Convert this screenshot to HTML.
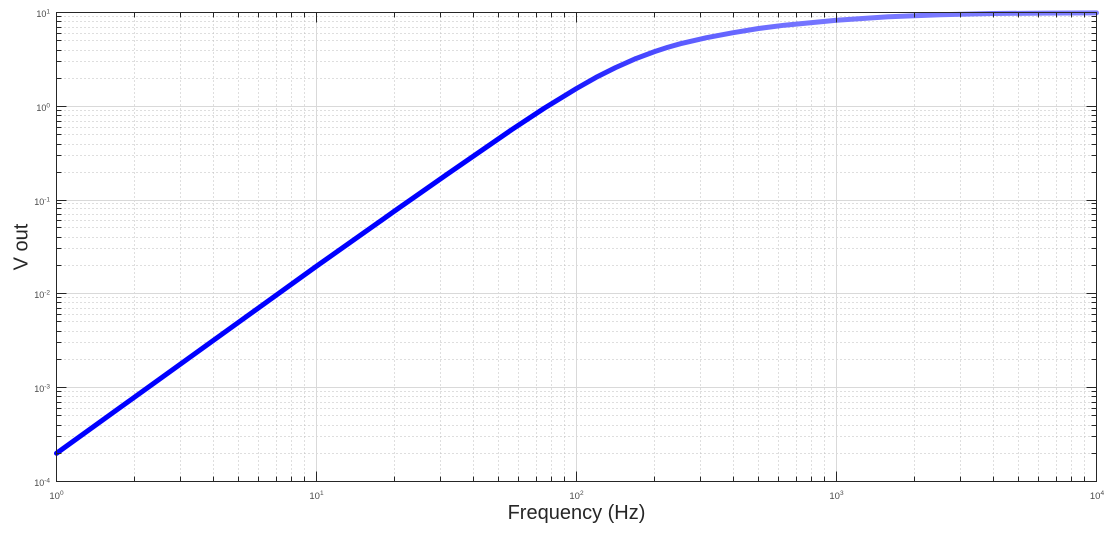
<!DOCTYPE html>
<html>
<head>
<meta charset="utf-8">
<style>
  html, body { margin: 0; padding: 0; background: #ffffff; }
  svg { display: block; }
  .mn { stroke: #bdbdbd; stroke-width: 1; stroke-dasharray: 1 3; fill: none; }
  .mj { stroke: #d9d9d9; stroke-width: 1; fill: none; }
  .tk { stroke: #262626; stroke-width: 1; fill: none; }
  .tl { font-family: "Liberation Sans", sans-serif; fill: #4a4a4a; }
  .al { font-family: "Liberation Sans", sans-serif; fill: #262626; font-size: 20px; }
</style>
</head>
<body>
<svg width="1105" height="535" viewBox="0 0 1105 535" xmlns="http://www.w3.org/2000/svg">
  <defs>
    <g id="vgrid">
      <line class="mn" x1="78" y1="12.5" x2="78" y2="481.5"/>
      <line class="mn" x1="124" y1="12.5" x2="124" y2="481.5"/>
      <line class="mn" x1="157" y1="12.5" x2="157" y2="481.5"/>
      <line class="mn" x1="182" y1="12.5" x2="182" y2="481.5"/>
      <line class="mn" x1="202" y1="12.5" x2="202" y2="481.5"/>
      <line class="mn" x1="220" y1="12.5" x2="220" y2="481.5"/>
      <line class="mn" x1="235" y1="12.5" x2="235" y2="481.5"/>
      <line class="mn" x1="248" y1="12.5" x2="248" y2="481.5"/>
    </g>
    <g id="vtick">
      <line class="tk" x1="78" y1="481.5" x2="78" y2="476.5"/>
      <line class="tk" x1="124" y1="481.5" x2="124" y2="476.5"/>
      <line class="tk" x1="157" y1="481.5" x2="157" y2="476.5"/>
      <line class="tk" x1="182" y1="481.5" x2="182" y2="476.5"/>
      <line class="tk" x1="202" y1="481.5" x2="202" y2="476.5"/>
      <line class="tk" x1="220" y1="481.5" x2="220" y2="476.5"/>
      <line class="tk" x1="235" y1="481.5" x2="235" y2="476.5"/>
      <line class="tk" x1="248" y1="481.5" x2="248" y2="476.5"/>
      <line class="tk" x1="78" y1="12.5" x2="78" y2="17.5"/>
      <line class="tk" x1="124" y1="12.5" x2="124" y2="17.5"/>
      <line class="tk" x1="157" y1="12.5" x2="157" y2="17.5"/>
      <line class="tk" x1="182" y1="12.5" x2="182" y2="17.5"/>
      <line class="tk" x1="202" y1="12.5" x2="202" y2="17.5"/>
      <line class="tk" x1="220" y1="12.5" x2="220" y2="17.5"/>
      <line class="tk" x1="235" y1="12.5" x2="235" y2="17.5"/>
      <line class="tk" x1="248" y1="12.5" x2="248" y2="17.5"/>
    </g>
    <g id="hgrid">
      <line class="mn" x1="56.5" y1="-28" x2="1096.5" y2="-28"/>
      <line class="mn" x1="56.5" y1="-45" x2="1096.5" y2="-45"/>
      <line class="mn" x1="56.5" y1="-56" x2="1096.5" y2="-56"/>
      <line class="mn" x1="56.5" y1="-66" x2="1096.5" y2="-66"/>
      <line class="mn" x1="56.5" y1="-73" x2="1096.5" y2="-73"/>
      <line class="mn" x1="56.5" y1="-79" x2="1096.5" y2="-79"/>
      <line class="mn" x1="56.5" y1="-85" x2="1096.5" y2="-85"/>
      <line class="mn" x1="56.5" y1="-90" x2="1096.5" y2="-90"/>
    </g>
    <g id="htick">
      <line class="tk" x1="56.5" y1="-28" x2="61.5" y2="-28"/>
      <line class="tk" x1="56.5" y1="-45" x2="61.5" y2="-45"/>
      <line class="tk" x1="56.5" y1="-56" x2="61.5" y2="-56"/>
      <line class="tk" x1="56.5" y1="-66" x2="61.5" y2="-66"/>
      <line class="tk" x1="56.5" y1="-73" x2="61.5" y2="-73"/>
      <line class="tk" x1="56.5" y1="-79" x2="61.5" y2="-79"/>
      <line class="tk" x1="56.5" y1="-85" x2="61.5" y2="-85"/>
      <line class="tk" x1="56.5" y1="-90" x2="61.5" y2="-90"/>
      <line class="tk" x1="1096.5" y1="-28" x2="1091.5" y2="-28"/>
      <line class="tk" x1="1096.5" y1="-45" x2="1091.5" y2="-45"/>
      <line class="tk" x1="1096.5" y1="-56" x2="1091.5" y2="-56"/>
      <line class="tk" x1="1096.5" y1="-66" x2="1091.5" y2="-66"/>
      <line class="tk" x1="1096.5" y1="-73" x2="1091.5" y2="-73"/>
      <line class="tk" x1="1096.5" y1="-79" x2="1091.5" y2="-79"/>
      <line class="tk" x1="1096.5" y1="-85" x2="1091.5" y2="-85"/>
      <line class="tk" x1="1096.5" y1="-90" x2="1091.5" y2="-90"/>
    </g>
    <linearGradient id="cg" gradientUnits="userSpaceOnUse" x1="56.5" y1="0" x2="1096.5" y2="0">
      <stop offset="0" stop-color="#0000ff"/>
      <stop offset="0.465" stop-color="#0000ff"/>
      <stop offset="0.523" stop-color="#2a2aff"/>
      <stop offset="0.60" stop-color="#5c5cff"/>
      <stop offset="0.715" stop-color="#7474ff"/>
      <stop offset="1" stop-color="#8080ff"/>
    </linearGradient>
  </defs>

  <rect x="0" y="0" width="1105" height="535" fill="#ffffff"/>

  <use href="#vgrid" transform="translate(56.5,0)"/>
  <use href="#vgrid" transform="translate(316.5,0)"/>
  <use href="#vgrid" transform="translate(576.5,0)"/>
  <use href="#vgrid" transform="translate(836.5,0)"/>
  <use href="#hgrid" transform="translate(0,481.5)"/>
  <use href="#hgrid" transform="translate(0,387.5)"/>
  <use href="#hgrid" transform="translate(0,293.5)"/>
  <use href="#hgrid" transform="translate(0,200.5)"/>
  <use href="#hgrid" transform="translate(0,106.5)"/>

  <line class="mj" x1="316.5" y1="12.5" x2="316.5" y2="481.5"/>
  <line class="mj" x1="576.5" y1="12.5" x2="576.5" y2="481.5"/>
  <line class="mj" x1="836.5" y1="12.5" x2="836.5" y2="481.5"/>
  <line class="mj" x1="56.5" y1="106.5" x2="1096.5" y2="106.5"/>
  <line class="mj" x1="56.5" y1="200.5" x2="1096.5" y2="200.5"/>
  <line class="mj" x1="56.5" y1="293.5" x2="1096.5" y2="293.5"/>
  <line class="mj" x1="56.5" y1="387.5" x2="1096.5" y2="387.5"/>

  <polyline fill="none" stroke="url(#cg)" stroke-width="5" stroke-linecap="round" stroke-linejoin="round"
    points="56.5,453.3 316.5,266.2 394.5,211.1 446.5,174.7 511.5,129.8 544,108.4 576.5,88.5 596,77.4 615.5,67.6 635,58.9 654.5,51.6 667.5,47.4 680.5,43.7 706.5,37.7 732.5,32.8 758.5,28.5 784.5,25.2 836.5,20.2 888.5,16.8 940.5,14.7 992.5,13.5 1044.5,13.1 1096.5,12.9"/>

  <use href="#vtick" transform="translate(56.5,0)"/>
  <use href="#vtick" transform="translate(316.5,0)"/>
  <use href="#vtick" transform="translate(576.5,0)"/>
  <use href="#vtick" transform="translate(836.5,0)"/>
  <use href="#htick" transform="translate(0,481.5)"/>
  <use href="#htick" transform="translate(0,387.5)"/>
  <use href="#htick" transform="translate(0,293.5)"/>
  <use href="#htick" transform="translate(0,200.5)"/>
  <use href="#htick" transform="translate(0,106.5)"/>

  <g class="tk">
    <line x1="316.5" y1="481.5" x2="316.5" y2="471.5"/>
    <line x1="576.5" y1="481.5" x2="576.5" y2="471.5"/>
    <line x1="836.5" y1="481.5" x2="836.5" y2="471.5"/>
    <line x1="316.5" y1="12.5" x2="316.5" y2="22.5"/>
    <line x1="576.5" y1="12.5" x2="576.5" y2="22.5"/>
    <line x1="836.5" y1="12.5" x2="836.5" y2="22.5"/>
    <line x1="56.5" y1="106.5" x2="66.5" y2="106.5"/>
    <line x1="56.5" y1="200.5" x2="66.5" y2="200.5"/>
    <line x1="56.5" y1="293.5" x2="66.5" y2="293.5"/>
    <line x1="56.5" y1="387.5" x2="66.5" y2="387.5"/>
    <line x1="56.5" y1="12.5" x2="66.5" y2="12.5"/>
    <line x1="56.5" y1="481.5" x2="66.5" y2="481.5"/>
    <line x1="1096.5" y1="106.5" x2="1086.5" y2="106.5"/>
    <line x1="1096.5" y1="200.5" x2="1086.5" y2="200.5"/>
    <line x1="1096.5" y1="293.5" x2="1086.5" y2="293.5"/>
    <line x1="1096.5" y1="387.5" x2="1086.5" y2="387.5"/>
  </g>

  <rect x="56.5" y="12.5" width="1040" height="469" fill="none" stroke="#262626" stroke-width="1"/>

  <g class="tl" text-anchor="end" font-size="9">
    <text x="50" y="17">10<tspan dy="-3.5" font-size="6.5">1</tspan></text>
    <text x="50" y="111">10<tspan dy="-3.5" font-size="6.5">0</tspan></text>
    <text x="50" y="205">10<tspan dy="-3.5" font-size="6.5">-1</tspan></text>
    <text x="50" y="298">10<tspan dy="-3.5" font-size="6.5">-2</tspan></text>
    <text x="50" y="392">10<tspan dy="-3.5" font-size="6.5">-3</tspan></text>
    <text x="50" y="486">10<tspan dy="-3.5" font-size="6.5">-4</tspan></text>
  </g>

  <g class="tl" text-anchor="middle" font-size="9.5">
    <text x="56.5" y="499">10<tspan dy="-4" font-size="6.5">0</tspan></text>
    <text x="316.5" y="499">10<tspan dy="-4" font-size="6.5">1</tspan></text>
    <text x="576.5" y="499">10<tspan dy="-4" font-size="6.5">2</tspan></text>
    <text x="836.5" y="499">10<tspan dy="-4" font-size="6.5">3</tspan></text>
    <text x="1097" y="499">10<tspan dy="-4" font-size="6.5">4</tspan></text>
  </g>

  <text class="al" x="576.5" y="519" text-anchor="middle">Frequency (Hz)</text>
  <text class="al" transform="translate(27.3,247) rotate(-90)" text-anchor="middle">V out</text>
</svg>
</body>
</html>
